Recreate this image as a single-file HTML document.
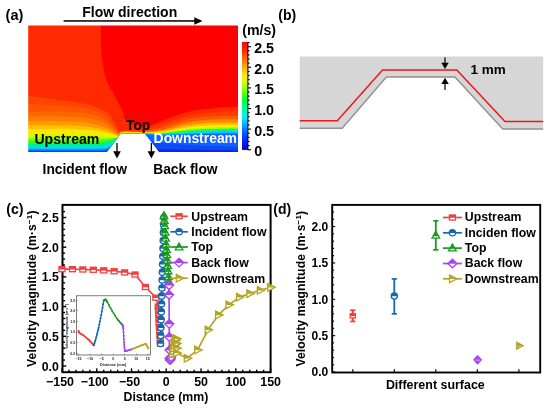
<!DOCTYPE html>
<html lang="en"><head><meta charset="utf-8"><title>Figure</title>
<style>html,body{margin:0;padding:0;background:#fff;}body{width:550px;height:411px;overflow:hidden;}svg{display:block;}</style>
</head><body>
<svg width="550" height="411" viewBox="0 0 550 411" font-family='"Liberation Sans", sans-serif'>
<rect width="550" height="411" fill="#fff"/>
<filter id="soft" x="0" y="0" width="100%" height="100%" filterUnits="userSpaceOnUse"><feGaussianBlur stdDeviation="0.35"/></filter>
<g filter="url(#soft)">
<defs>
<clipPath id="dom"><path d="M28.2,25.4 H238 V152 H159 L145,134 H121 L107,152 H28.2 Z"/></clipPath>
<filter id="bl" x="-5%" y="-5%" width="110%" height="110%"><feGaussianBlur stdDeviation="0.6"/></filter>
<linearGradient id="cbar" x1="0" y1="0" x2="0" y2="1">
<stop offset="0" stop-color="#ff0000"/>
<stop offset="0.075" stop-color="#ff2800"/>
<stop offset="0.17" stop-color="#ff7800"/>
<stop offset="0.245" stop-color="#ffb400"/>
<stop offset="0.32" stop-color="#fff000"/>
<stop offset="0.396" stop-color="#c0ff00"/>
<stop offset="0.47" stop-color="#60ff00"/>
<stop offset="0.547" stop-color="#00ff40"/>
<stop offset="0.623" stop-color="#00ffa0"/>
<stop offset="0.7" stop-color="#00f0ff"/>
<stop offset="0.774" stop-color="#00a0ff"/>
<stop offset="0.85" stop-color="#0058ff"/>
<stop offset="0.925" stop-color="#0020ff"/>
<stop offset="1" stop-color="#0000d0"/>
</linearGradient>
</defs>
<g clip-path="url(#dom)"><g filter="url(#bl)">
<rect x="20" y="15" width="230" height="150" fill="#ff2c00"/>
<path d="M101.0,10.0 C101.0,15.8 100.8,36.3 101.0,45.0 C101.2,53.7 101.6,56.2 102.5,62.0 C103.4,67.8 104.4,74.5 106.3,80.0 C108.2,85.5 111.4,90.0 114.0,95.0 C116.6,100.0 119.8,105.7 122.0,110.0 C124.2,114.3 122.8,118.3 127.0,121.0 C131.2,123.7 137.5,127.3 147.0,126.0 C156.5,124.7 173.2,115.9 184.0,113.0 C194.8,110.1 201.0,109.7 212.0,108.5 C223.0,107.3 243.7,106.4 250.0,106.0 L250,10 Z" fill="#ff0400"/>
<path d="M12.0,96.0 C14.7,96.0 21.7,95.5 28.0,96.0 C34.3,96.5 43.0,97.9 50.0,98.8 C57.0,99.7 64.2,100.7 70.0,101.5 C75.8,102.3 80.8,103.0 85.0,103.8 C89.2,104.6 92.2,105.5 95.0,106.5 C97.8,107.5 99.8,108.4 102.0,109.5 C104.2,110.6 106.3,111.4 108.0,113.0 C109.7,114.6 110.8,117.0 112.0,119.0 C113.2,121.0 114.0,123.2 115.0,125.0 C116.0,126.8 117.2,128.2 118.0,129.5 C118.8,130.8 119.4,132.0 120.0,133.0 C120.6,134.0 121.2,135.1 121.5,135.5 L121.5,175 L10,175 Z" fill="#ff4400"/>
<path d="M12.0,104.0 C14.7,104.0 21.7,103.8 28.0,104.0 C34.3,104.2 43.0,104.7 50.0,105.2 C57.0,105.6 64.2,106.2 70.0,106.8 C75.8,107.3 80.8,107.7 85.0,108.4 C89.2,109.1 92.2,110.1 95.0,111.0 C97.8,111.9 99.8,112.7 102.0,113.8 C104.2,114.8 106.3,116.0 108.0,117.5 C109.7,119.0 110.8,121.1 112.0,122.8 C113.2,124.4 114.0,125.8 115.0,127.2 C116.0,128.7 117.2,130.1 118.0,131.2 C118.8,132.4 119.4,133.2 120.0,134.0 C120.6,134.8 121.2,135.7 121.5,136.0 L121.5,175 L10,175 Z" fill="#ff5400"/>
<path d="M12.0,112.0 C14.7,112.0 21.7,112.1 28.0,112.0 C34.3,111.9 43.0,111.5 50.0,111.5 C57.0,111.5 64.2,111.8 70.0,112.0 C75.8,112.2 80.8,112.4 85.0,113.0 C89.2,113.6 92.2,114.7 95.0,115.5 C97.8,116.3 99.8,116.9 102.0,118.0 C104.2,119.1 106.3,120.6 108.0,122.0 C109.7,123.4 110.8,125.2 112.0,126.5 C113.2,127.8 114.0,128.4 115.0,129.5 C116.0,130.6 117.2,132.1 118.0,133.0 C118.8,133.9 119.4,134.4 120.0,135.0 C120.6,135.6 121.2,136.2 121.5,136.5 L121.5,175 L10,175 Z" fill="#ff6600"/>
<path d="M12.0,116.5 C14.7,116.5 21.7,116.5 28.0,116.5 C34.3,116.5 43.0,116.2 50.0,116.2 C57.0,116.3 64.2,116.5 70.0,116.7 C75.8,116.9 80.8,117.1 85.0,117.6 C89.2,118.2 92.2,119.1 95.0,119.8 C97.8,120.5 99.8,121.2 102.0,122.1 C104.2,123.0 106.3,124.1 108.0,125.2 C109.7,126.3 110.8,127.7 112.0,128.7 C113.2,129.6 114.0,130.2 115.0,131.1 C116.0,131.9 117.2,133.1 118.0,133.9 C118.8,134.6 119.4,135.1 120.0,135.6 C120.6,136.1 121.2,136.7 121.5,136.9 L121.5,175 L10,175 Z" fill="#ff7e00"/>
<path d="M12.0,121.2 C14.7,121.2 21.7,121.2 28.0,121.2 C34.3,121.2 43.0,121.1 50.0,121.2 C57.0,121.3 64.2,121.4 70.0,121.6 C75.8,121.8 80.8,122.0 85.0,122.5 C89.2,122.9 92.2,123.7 95.0,124.3 C97.8,124.9 99.8,125.6 102.0,126.3 C104.2,127.0 106.3,127.8 108.0,128.6 C109.7,129.3 110.8,130.2 112.0,130.9 C113.2,131.6 114.0,132.1 115.0,132.7 C116.0,133.4 117.2,134.2 118.0,134.8 C118.8,135.4 119.4,135.9 120.0,136.3 C120.6,136.7 121.2,137.1 121.5,137.3 L121.5,175 L10,175 Z" fill="#ff9a00"/>
<path d="M12.0,125.3 C14.7,125.3 21.7,125.3 28.0,125.3 C34.3,125.3 43.0,125.3 50.0,125.3 C57.0,125.3 64.2,125.3 70.0,125.5 C75.8,125.7 80.8,126.0 85.0,126.4 C89.2,126.7 92.2,127.2 95.0,127.7 C97.8,128.1 99.8,128.5 102.0,129.1 C104.2,129.6 106.3,130.3 108.0,130.9 C109.7,131.5 110.8,132.1 112.0,132.6 C113.2,133.1 114.0,133.5 115.0,134.0 C116.0,134.5 117.2,135.1 118.0,135.5 C118.8,136.0 119.4,136.4 120.0,136.7 C120.6,137.0 121.2,137.3 121.5,137.5 L121.5,175 L10,175 Z" fill="#ffc000"/>
<path d="M12.0,128.9 C14.7,128.9 21.7,128.9 28.0,128.9 C34.3,128.9 43.0,128.9 50.0,128.9 C57.0,128.9 64.2,128.8 70.0,128.9 C75.8,129.0 80.8,129.5 85.0,129.8 C89.2,130.0 92.2,130.3 95.0,130.6 C97.8,130.8 99.8,131.1 102.0,131.4 C104.2,131.8 106.3,132.5 108.0,132.9 C109.7,133.3 110.8,133.7 112.0,134.1 C113.2,134.4 114.0,134.7 115.0,135.1 C116.0,135.4 117.2,135.9 118.0,136.2 C118.8,136.6 119.4,136.8 120.0,137.0 C120.6,137.3 121.2,137.5 121.5,137.6 L121.5,175 L10,175 Z" fill="#ffe800"/>
<path d="M12.0,134.5 C14.7,134.5 21.7,134.5 28.0,134.5 C34.3,134.5 43.0,134.5 50.0,134.5 C57.0,134.5 64.2,134.5 70.0,134.5 C75.8,134.5 80.8,134.4 85.0,134.5 C89.2,134.6 92.2,134.9 95.0,135.0 C97.8,135.2 99.8,135.3 102.0,135.4 C104.2,135.6 106.3,135.8 108.0,135.9 C109.7,136.1 110.8,136.3 112.0,136.5 C113.2,136.6 114.0,136.6 115.0,136.8 C116.0,136.9 117.2,137.0 118.0,137.2 C118.8,137.3 119.4,137.5 120.0,137.6 C120.6,137.7 121.2,137.9 121.5,138.0 L121.5,175 L10,175 Z" fill="#c8ff00"/>
<path d="M12.0,138.2 C14.7,138.2 21.7,138.2 28.0,138.2 C34.3,138.2 43.0,138.2 50.0,138.2 C57.0,138.2 64.2,138.2 70.0,138.2 C75.8,138.2 80.8,138.2 85.0,138.2 C89.2,138.2 92.2,138.4 95.0,138.4 C97.8,138.4 99.8,138.4 102.0,138.3 C104.2,138.2 106.3,138.1 108.0,138.1 C109.7,138.0 110.8,137.9 112.0,137.9 C113.2,137.8 114.0,137.7 115.0,137.6 C116.0,137.6 117.2,137.4 118.0,137.4 C118.8,137.3 119.4,137.3 120.0,137.3 C120.6,137.3 121.2,137.3 121.5,137.3 L121.5,175 L10,175 Z" fill="#84fc00"/>
<path d="M12.0,140.6 C14.7,140.6 21.7,140.6 28.0,140.6 C34.3,140.6 43.0,140.6 50.0,140.6 C57.0,140.6 64.2,140.6 70.0,140.6 C75.8,140.6 80.8,140.6 85.0,140.6 C89.2,140.6 92.2,140.7 95.0,140.6 C97.8,140.6 99.8,140.4 102.0,140.2 C104.2,140.0 106.3,139.7 108.0,139.4 C109.7,139.2 110.8,139.0 112.0,138.8 C113.2,138.6 114.0,138.4 115.0,138.2 C116.0,138.0 117.2,137.7 118.0,137.5 C118.8,137.3 119.4,137.2 120.0,137.1 C120.6,137.0 121.2,136.9 121.5,136.8 L121.5,175 L10,175 Z" fill="#38f828"/>
<path d="M12.0,143.4 C14.7,143.4 21.7,143.4 28.0,143.4 C34.3,143.4 43.0,143.4 50.0,143.4 C57.0,143.4 64.2,143.4 70.0,143.4 C75.8,143.4 80.8,143.4 85.0,143.4 C89.2,143.4 92.2,143.4 95.0,143.3 C97.8,143.2 99.8,143.0 102.0,142.7 C104.2,142.5 106.3,142.0 108.0,141.6 C109.7,141.2 110.8,140.8 112.0,140.4 C113.2,140.0 114.0,139.6 115.0,139.2 C116.0,138.7 117.2,138.1 118.0,137.7 C118.8,137.3 119.4,137.0 120.0,136.8 C120.6,136.5 121.2,136.3 121.5,136.2 L121.5,175 L10,175 Z" fill="#00f088"/>
<path d="M12.0,146.2 C14.7,146.2 21.7,146.2 28.0,146.2 C34.3,146.2 43.0,146.2 50.0,146.2 C57.0,146.2 64.2,146.2 70.0,146.2 C75.8,146.2 80.8,146.2 85.0,146.2 C89.2,146.2 92.2,146.2 95.0,146.2 C97.8,146.1 99.8,146.2 102.0,145.9 C104.2,145.7 106.3,145.2 108.0,144.7 C109.7,144.3 110.8,143.7 112.0,143.0 C113.2,142.3 114.0,141.5 115.0,140.7 C116.0,139.8 117.2,138.6 118.0,137.9 C118.8,137.2 119.4,136.7 120.0,136.2 C120.6,135.8 121.2,135.5 121.5,135.4 L121.5,175 L10,175 Z" fill="#00dcf0"/>
<path d="M12.0,148.8 C14.7,148.8 21.7,148.8 28.0,148.8 C34.3,148.8 43.0,148.8 50.0,148.8 C57.0,148.8 64.2,148.8 70.0,148.8 C75.8,148.8 80.8,148.8 85.0,148.8 C89.2,148.8 92.2,148.8 95.0,148.8 C97.8,148.8 99.8,148.9 102.0,148.7 C104.2,148.5 106.3,148.2 108.0,147.6 C109.7,146.9 110.8,145.7 112.0,144.7 C113.2,143.7 114.0,142.6 115.0,141.5 C116.0,140.4 117.2,139.0 118.0,138.0 C118.8,137.0 119.4,136.3 120.0,135.8 C120.6,135.3 121.2,135.0 121.5,134.8 L121.5,175 L10,175 Z" fill="#0094ff"/>
<path d="M12.0,150.6 C14.7,150.6 21.7,150.6 28.0,150.6 C34.3,150.6 43.0,150.6 50.0,150.6 C57.0,150.6 64.2,150.6 70.0,150.6 C75.8,150.6 80.8,150.6 85.0,150.6 C89.2,150.6 92.2,150.6 95.0,150.6 C97.8,150.6 99.8,150.8 102.0,150.6 C104.2,150.4 106.3,150.3 108.0,149.5 C109.7,148.6 110.8,146.8 112.0,145.5 C113.2,144.2 114.0,142.9 115.0,141.7 C116.0,140.4 117.2,139.0 118.0,138.0 C118.8,137.0 119.4,136.1 120.0,135.5 C120.6,134.9 121.2,134.7 121.5,134.5 L121.5,175 L10,175 Z" fill="#0044ff"/>
<path d="M119.0,133.8 C119.5,133.3 119.5,131.3 122.0,130.8 C124.5,130.3 130.2,130.8 134.0,130.8 C137.8,130.8 140.2,131.9 145.0,130.8 C149.8,129.7 155.4,126.5 163.0,124.0 C170.6,121.5 181.4,117.8 190.5,115.8 C199.6,113.8 207.8,113.1 217.7,112.3 C227.6,111.5 244.6,111.4 250.0,111.2 L260,175 L119,175 Z" fill="#ff3e00"/>
<path d="M119.0,134.2 C119.5,133.7 119.5,131.7 122.0,131.2 C124.5,130.7 130.2,131.2 134.0,131.2 C137.8,131.2 140.2,131.9 145.0,131.2 C149.8,130.5 155.4,129.1 163.0,127.0 C170.6,124.9 181.4,120.3 190.5,118.5 C199.6,116.7 207.8,116.8 217.7,116.3 C227.6,115.8 244.6,115.9 250.0,115.8 L260,175 L119,175 Z" fill="#ff5a00"/>
<path d="M119.0,134.7 C119.5,134.2 119.5,132.2 122.0,131.7 C124.5,131.2 130.2,131.7 134.0,131.7 C137.8,131.7 140.2,132.1 145.0,131.7 C149.8,131.3 155.4,131.2 163.0,129.5 C170.6,127.8 181.4,123.5 190.5,121.8 C199.6,120.1 207.8,119.9 217.7,119.5 C227.6,119.1 244.6,119.6 250.0,119.6 L260,175 L119,175 Z" fill="#ff8c00"/>
<path d="M119.0,135.1 C119.5,134.6 119.5,132.6 122.0,132.1 C124.5,131.6 130.2,132.1 134.0,132.1 C137.8,132.1 140.2,132.3 145.0,132.1 C149.8,131.9 155.4,132.0 163.0,130.8 C170.6,129.6 181.4,126.1 190.5,124.8 C199.6,123.5 207.8,123.1 217.7,122.8 C227.6,122.5 244.6,122.8 250.0,122.8 L260,175 L119,175 Z" fill="#ffc000"/>
<path d="M119.0,135.5 C119.5,135.0 119.5,133.0 122.0,132.5 C124.5,132.0 130.2,132.5 134.0,132.5 C137.8,132.5 140.2,132.6 145.0,132.5 C149.8,132.4 155.4,132.7 163.0,131.8 C170.6,130.9 181.4,128.1 190.5,127.0 C199.6,125.9 207.8,125.5 217.7,125.2 C227.6,124.9 244.6,125.2 250.0,125.2 L260,175 L119,175 Z" fill="#fff000"/>
<path d="M119.0,135.9 C119.5,135.4 119.5,133.4 122.0,132.9 C124.5,132.4 130.2,132.9 134.0,132.9 C137.8,132.9 140.2,133.0 145.0,132.9 C149.8,132.8 155.4,133.2 163.0,132.5 C170.6,131.8 181.4,129.5 190.5,128.6 C199.6,127.7 207.8,127.4 217.7,127.2 C227.6,127.0 244.6,127.2 250.0,127.2 L260,175 L119,175 Z" fill="#b0ff00"/>
<path d="M119.0,136.2 C119.5,135.7 119.5,133.7 122.0,133.2 C124.5,132.7 130.2,133.2 134.0,133.2 C137.8,133.2 140.2,133.2 145.0,133.2 C149.8,133.2 155.4,133.5 163.0,133.0 C170.6,132.5 181.4,130.7 190.5,130.0 C199.6,129.3 207.8,129.0 217.7,128.7 C227.6,128.4 244.6,128.4 250.0,128.4 L260,175 L119,175 Z" fill="#30f830"/>
<path d="M119.0,136.5 C119.5,136.0 119.5,134.0 122.0,133.5 C124.5,133.0 130.2,133.5 134.0,133.5 C137.8,133.5 140.2,133.5 145.0,133.5 C149.8,133.5 155.4,133.9 163.0,133.5 C170.6,133.1 181.4,131.8 190.5,131.2 C199.6,130.6 207.8,130.2 217.7,130.0 C227.6,129.8 244.6,129.8 250.0,129.8 L260,175 L119,175 Z" fill="#00f0a0"/>
<path d="M119.0,136.8 C119.5,136.3 119.5,134.3 122.0,133.8 C124.5,133.3 130.2,133.8 134.0,133.8 C137.8,133.8 140.2,133.8 145.0,133.8 C149.8,133.8 155.4,134.2 163.0,134.0 C170.6,133.8 181.4,132.8 190.5,132.4 C199.6,132.0 207.8,131.5 217.7,131.3 C227.6,131.1 244.6,131.2 250.0,131.2 L260,175 L119,175 Z" fill="#00d8f8"/>
<path d="M119.0,137.1 C119.5,136.6 119.5,134.6 122.0,134.1 C124.5,133.6 130.2,134.1 134.0,134.1 C137.8,134.1 140.2,134.0 145.0,134.1 C149.8,134.2 155.4,134.6 163.0,134.5 C170.6,134.4 181.4,133.8 190.5,133.5 C199.6,133.2 207.8,132.8 217.7,132.6 C227.6,132.4 244.6,132.5 250.0,132.5 L260,175 L119,175 Z" fill="#0098ff"/>
<path d="M119.0,137.4 C119.5,136.9 119.5,134.9 122.0,134.4 C124.5,133.9 130.2,134.4 134.0,134.4 C137.8,134.4 140.2,134.3 145.0,134.4 C149.8,134.5 155.4,135.2 163.0,135.2 C170.6,135.2 181.4,134.8 190.5,134.6 C199.6,134.4 207.8,133.9 217.7,133.8 C227.6,133.7 244.6,133.8 250.0,133.8 L260,175 L119,175 Z" fill="#0a64ff"/>
<path d="M150,141 C170,144 200,146.5 250,147 L250,170 L150,170 Z" fill="#0848f8"/>
<path d="M156,149.3 C180,149.8 210,150.2 250,150.2 L250,170 L156,170 Z" fill="#0828e0"/>
</g></g>
<rect x="242.0" y="42" width="6.0" height="107.9" fill="url(#cbar)"/>
<rect x="247.4" y="42" width="1.0" height="108.2" fill="#000"/>
<rect x="247.8" y="149.15" width="3.2" height="1.1" fill="#000"/>
<rect x="247.8" y="145.03" width="1.8" height="1.1" fill="#000"/>
<rect x="247.8" y="140.91" width="1.8" height="1.1" fill="#000"/>
<rect x="247.8" y="136.79" width="1.8" height="1.1" fill="#000"/>
<rect x="247.8" y="132.67" width="1.8" height="1.1" fill="#000"/>
<rect x="247.8" y="128.55" width="3.2" height="1.1" fill="#000"/>
<rect x="247.8" y="124.43" width="1.8" height="1.1" fill="#000"/>
<rect x="247.8" y="120.31" width="1.8" height="1.1" fill="#000"/>
<rect x="247.8" y="116.19" width="1.8" height="1.1" fill="#000"/>
<rect x="247.8" y="112.07" width="1.8" height="1.1" fill="#000"/>
<rect x="247.8" y="107.95" width="3.2" height="1.1" fill="#000"/>
<rect x="247.8" y="103.83" width="1.8" height="1.1" fill="#000"/>
<rect x="247.8" y="99.71" width="1.8" height="1.1" fill="#000"/>
<rect x="247.8" y="95.59" width="1.8" height="1.1" fill="#000"/>
<rect x="247.8" y="91.47" width="1.8" height="1.1" fill="#000"/>
<rect x="247.8" y="87.35" width="3.2" height="1.1" fill="#000"/>
<rect x="247.8" y="83.23" width="1.8" height="1.1" fill="#000"/>
<rect x="247.8" y="79.11" width="1.8" height="1.1" fill="#000"/>
<rect x="247.8" y="74.99" width="1.8" height="1.1" fill="#000"/>
<rect x="247.8" y="70.87" width="1.8" height="1.1" fill="#000"/>
<rect x="247.8" y="66.75" width="3.2" height="1.1" fill="#000"/>
<rect x="247.8" y="62.63" width="1.8" height="1.1" fill="#000"/>
<rect x="247.8" y="58.51" width="1.8" height="1.1" fill="#000"/>
<rect x="247.8" y="54.39" width="1.8" height="1.1" fill="#000"/>
<rect x="247.8" y="50.27" width="1.8" height="1.1" fill="#000"/>
<rect x="247.8" y="46.15" width="3.2" height="1.1" fill="#000"/>
<rect x="247.8" y="42.03" width="1.8" height="1.1" fill="#000"/>
<text x="254.20" y="52.80" font-size="14.3" font-weight="bold" text-anchor="start" fill="#000" >2.5</text>
<text x="254.20" y="73.50" font-size="14.3" font-weight="bold" text-anchor="start" fill="#000" >2.0</text>
<text x="254.20" y="94.20" font-size="14.3" font-weight="bold" text-anchor="start" fill="#000" >1.5</text>
<text x="254.20" y="114.90" font-size="14.3" font-weight="bold" text-anchor="start" fill="#000" >1.0</text>
<text x="254.20" y="135.60" font-size="14.3" font-weight="bold" text-anchor="start" fill="#000" >0.5</text>
<text x="254.20" y="156.30" font-size="14.3" font-weight="bold" text-anchor="start" fill="#000" >0</text>
<text x="242.20" y="34.90" font-size="14.2" font-weight="bold" text-anchor="start" fill="#000" >(m/s)</text>
<text x="5.60" y="20.30" font-size="14.5" font-weight="bold" text-anchor="start" fill="#000" >(a)</text>
<text x="82.30" y="17.30" font-size="14" font-weight="bold" text-anchor="start" fill="#000" >Flow direction</text>
<rect x="63.6" y="20.2" width="132" height="1.5" fill="#000"/>
<path d="M194.3,17.2 L202.5,20.95 L194.3,24.7 Z" fill="#000"/>
<text x="34.40" y="143.80" font-size="14.1" font-weight="bold" text-anchor="start" fill="#000" >Upstream</text>
<text x="126.00" y="130.10" font-size="13.8" font-weight="bold" text-anchor="start" fill="#000" >Top</text>
<text x="153.60" y="143.30" font-size="13.9" font-weight="bold" text-anchor="start" fill="#fff" >Downstream</text>
<text x="42.60" y="173.80" font-size="13.8" font-weight="bold" text-anchor="start" fill="#000" >Incident flow</text>
<text x="153.20" y="173.70" font-size="13.8" font-weight="bold" text-anchor="start" fill="#000" >Back flow</text>
<rect x="116.35" y="143" width="1.3" height="9" fill="#000"/>
<path d="M113.2,151.3 L120.8,151.3 L117.0,158.6 Z" fill="#000"/>
<rect x="150.75" y="143" width="1.3" height="9" fill="#000"/>
<path d="M147.6,151.3 L155.20000000000002,151.3 L151.4,158.6 Z" fill="#000"/>
<text x="278.30" y="19.60" font-size="14" font-weight="bold" text-anchor="start" fill="#000" >(b)</text>
<path d="M299.7,56.5 H543.2 V129.3 H502.5 L454.7,77.3 H386.6 L342.4,128.5 H299.7 Z" fill="#d6d6d6"/>
<path d="M299.7,128.2 H342.2 L386.4,77.0 H454.9 L502.7,129.0 H543.2" fill="none" stroke="#929292" stroke-width="1.4"/>
<path d="M299.7,120.8 H337.3 L382.5,69.9 H456.8 L505,121.6 H543.2" fill="none" stroke="#f01818" stroke-width="1.5"/>
<rect x="444.4" y="57.4" width="1.2" height="7" fill="#000"/>
<path d="M441.3,62.8 L448.7,62.8 L445,69.1 Z" fill="#000"/>
<rect x="444.4" y="83" width="1.2" height="7" fill="#000"/>
<path d="M441.3,84.0 L448.7,84.0 L445,77.7 Z" fill="#000"/>
<text x="470.40" y="74.10" font-size="12" font-weight="bold" text-anchor="start" fill="#000" textLength="35.3" lengthAdjust="spacingAndGlyphs">1 mm</text>
<text x="6.20" y="213.60" font-size="14.2" font-weight="bold" text-anchor="start" fill="#000" >(c)</text>
<rect x="62.5" y="204.9" width="208.10000000000002" height="167.29999999999998" fill="none" stroke="#000" stroke-width="2.0"/>
<rect x="61.31" y="368.40" width="1.4" height="3.8" fill="#000"/>
<rect x="68.26" y="369.70" width="1.4" height="2.5" fill="#000"/>
<rect x="75.21" y="369.70" width="1.4" height="2.5" fill="#000"/>
<rect x="82.16" y="369.70" width="1.4" height="2.5" fill="#000"/>
<rect x="89.12" y="369.70" width="1.4" height="2.5" fill="#000"/>
<rect x="96.07" y="368.40" width="1.4" height="3.8" fill="#000"/>
<rect x="103.02" y="369.70" width="1.4" height="2.5" fill="#000"/>
<rect x="109.98" y="369.70" width="1.4" height="2.5" fill="#000"/>
<rect x="116.93" y="369.70" width="1.4" height="2.5" fill="#000"/>
<rect x="123.88" y="369.70" width="1.4" height="2.5" fill="#000"/>
<rect x="130.84" y="368.40" width="1.4" height="3.8" fill="#000"/>
<rect x="137.79" y="369.70" width="1.4" height="2.5" fill="#000"/>
<rect x="144.74" y="369.70" width="1.4" height="2.5" fill="#000"/>
<rect x="151.69" y="369.70" width="1.4" height="2.5" fill="#000"/>
<rect x="158.65" y="369.70" width="1.4" height="2.5" fill="#000"/>
<rect x="165.60" y="368.40" width="1.4" height="3.8" fill="#000"/>
<rect x="172.55" y="369.70" width="1.4" height="2.5" fill="#000"/>
<rect x="179.51" y="369.70" width="1.4" height="2.5" fill="#000"/>
<rect x="186.46" y="369.70" width="1.4" height="2.5" fill="#000"/>
<rect x="193.41" y="369.70" width="1.4" height="2.5" fill="#000"/>
<rect x="200.37" y="368.40" width="1.4" height="3.8" fill="#000"/>
<rect x="207.32" y="369.70" width="1.4" height="2.5" fill="#000"/>
<rect x="214.27" y="369.70" width="1.4" height="2.5" fill="#000"/>
<rect x="221.22" y="369.70" width="1.4" height="2.5" fill="#000"/>
<rect x="228.18" y="369.70" width="1.4" height="2.5" fill="#000"/>
<rect x="235.13" y="368.40" width="1.4" height="3.8" fill="#000"/>
<rect x="242.08" y="369.70" width="1.4" height="2.5" fill="#000"/>
<rect x="249.04" y="369.70" width="1.4" height="2.5" fill="#000"/>
<rect x="255.99" y="369.70" width="1.4" height="2.5" fill="#000"/>
<rect x="262.94" y="369.70" width="1.4" height="2.5" fill="#000"/>
<rect x="269.90" y="368.40" width="1.4" height="3.8" fill="#000"/>
<rect x="62.5" y="365.30" width="3.8" height="1.4" fill="#000"/>
<rect x="62.5" y="359.36" width="2.5" height="1.4" fill="#000"/>
<rect x="62.5" y="353.42" width="2.5" height="1.4" fill="#000"/>
<rect x="62.5" y="347.48" width="2.5" height="1.4" fill="#000"/>
<rect x="62.5" y="341.54" width="2.5" height="1.4" fill="#000"/>
<rect x="62.5" y="335.60" width="3.8" height="1.4" fill="#000"/>
<rect x="62.5" y="329.66" width="2.5" height="1.4" fill="#000"/>
<rect x="62.5" y="323.72" width="2.5" height="1.4" fill="#000"/>
<rect x="62.5" y="317.78" width="2.5" height="1.4" fill="#000"/>
<rect x="62.5" y="311.84" width="2.5" height="1.4" fill="#000"/>
<rect x="62.5" y="305.90" width="3.8" height="1.4" fill="#000"/>
<rect x="62.5" y="299.96" width="2.5" height="1.4" fill="#000"/>
<rect x="62.5" y="294.02" width="2.5" height="1.4" fill="#000"/>
<rect x="62.5" y="288.08" width="2.5" height="1.4" fill="#000"/>
<rect x="62.5" y="282.14" width="2.5" height="1.4" fill="#000"/>
<rect x="62.5" y="276.20" width="3.8" height="1.4" fill="#000"/>
<rect x="62.5" y="270.26" width="2.5" height="1.4" fill="#000"/>
<rect x="62.5" y="264.32" width="2.5" height="1.4" fill="#000"/>
<rect x="62.5" y="258.38" width="2.5" height="1.4" fill="#000"/>
<rect x="62.5" y="252.44" width="2.5" height="1.4" fill="#000"/>
<rect x="62.5" y="246.50" width="3.8" height="1.4" fill="#000"/>
<rect x="62.5" y="240.56" width="2.5" height="1.4" fill="#000"/>
<rect x="62.5" y="234.62" width="2.5" height="1.4" fill="#000"/>
<rect x="62.5" y="228.68" width="2.5" height="1.4" fill="#000"/>
<rect x="62.5" y="222.74" width="2.5" height="1.4" fill="#000"/>
<rect x="62.5" y="216.80" width="3.8" height="1.4" fill="#000"/>
<rect x="62.5" y="210.86" width="2.5" height="1.4" fill="#000"/>
<text x="60.01" y="385.90" font-size="12.4" font-weight="bold" text-anchor="middle" fill="#000" >−150</text>
<text x="94.77" y="385.90" font-size="12.4" font-weight="bold" text-anchor="middle" fill="#000" >−100</text>
<text x="129.54" y="385.90" font-size="12.4" font-weight="bold" text-anchor="middle" fill="#000" >−50</text>
<text x="166.30" y="385.90" font-size="12.4" font-weight="bold" text-anchor="middle" fill="#000" >0</text>
<text x="201.06" y="385.90" font-size="12.4" font-weight="bold" text-anchor="middle" fill="#000" >50</text>
<text x="235.83" y="385.90" font-size="12.4" font-weight="bold" text-anchor="middle" fill="#000" >100</text>
<text x="270.60" y="385.90" font-size="12.4" font-weight="bold" text-anchor="middle" fill="#000" >150</text>
<text x="58.80" y="370.80" font-size="12.3" font-weight="bold" text-anchor="end" fill="#000" >0.0</text>
<text x="58.80" y="340.70" font-size="12.3" font-weight="bold" text-anchor="end" fill="#000" >0.5</text>
<text x="58.80" y="311.00" font-size="12.3" font-weight="bold" text-anchor="end" fill="#000" >1.0</text>
<text x="58.80" y="281.30" font-size="12.3" font-weight="bold" text-anchor="end" fill="#000" >1.5</text>
<text x="58.80" y="251.60" font-size="12.3" font-weight="bold" text-anchor="end" fill="#000" >2.0</text>
<text x="58.80" y="221.90" font-size="12.3" font-weight="bold" text-anchor="end" fill="#000" >2.5</text>
<text x="123.50" y="401.20" font-size="12.3" font-weight="bold" text-anchor="start" fill="#000" >Distance (mm)</text>
<text transform="translate(36.1,367) rotate(-90)" font-size="12.1" font-weight="bold" textLength="156.5" lengthAdjust="spacing">Velocity magnitude (m·s<tspan font-size="8" dy="-4.5">−1</tspan><tspan dy="4.5">)</tspan></text>
<polyline fill="none" stroke="#f04040" stroke-width="1.7" stroke-linejoin="round" points="62.01,269.18 72.43,269.18 82.86,269.48 93.29,269.77 103.72,270.37 114.15,271.26 124.58,272.44 135.01,274.52 145.44,287.00 155.87,297.69 158.23,306.60 158.51,310.16 158.72,314.32 158.93,318.48 159.14,322.64 159.35,326.80 159.63,330.95 159.90,335.11 160.18,339.27 160.46,343.43"/>
<rect x="59.01" y="266.66" width="6.00" height="5.04" fill="#fff" stroke="#f04040" stroke-width="1.3"/><rect x="59.01" y="266.66" width="6.00" height="2.82" fill="#f04040"/>
<rect x="69.43" y="266.66" width="6.00" height="5.04" fill="#fff" stroke="#f04040" stroke-width="1.3"/><rect x="69.43" y="266.66" width="6.00" height="2.82" fill="#f04040"/>
<rect x="79.86" y="266.96" width="6.00" height="5.04" fill="#fff" stroke="#f04040" stroke-width="1.3"/><rect x="79.86" y="266.96" width="6.00" height="2.82" fill="#f04040"/>
<rect x="90.29" y="267.25" width="6.00" height="5.04" fill="#fff" stroke="#f04040" stroke-width="1.3"/><rect x="90.29" y="267.25" width="6.00" height="2.82" fill="#f04040"/>
<rect x="100.72" y="267.85" width="6.00" height="5.04" fill="#fff" stroke="#f04040" stroke-width="1.3"/><rect x="100.72" y="267.85" width="6.00" height="2.82" fill="#f04040"/>
<rect x="111.15" y="268.74" width="6.00" height="5.04" fill="#fff" stroke="#f04040" stroke-width="1.3"/><rect x="111.15" y="268.74" width="6.00" height="2.82" fill="#f04040"/>
<rect x="121.58" y="269.93" width="6.00" height="5.04" fill="#fff" stroke="#f04040" stroke-width="1.3"/><rect x="121.58" y="269.93" width="6.00" height="2.82" fill="#f04040"/>
<rect x="132.01" y="272.00" width="6.00" height="5.04" fill="#fff" stroke="#f04040" stroke-width="1.3"/><rect x="132.01" y="272.00" width="6.00" height="2.82" fill="#f04040"/>
<rect x="142.44" y="284.48" width="6.00" height="5.04" fill="#fff" stroke="#f04040" stroke-width="1.3"/><rect x="142.44" y="284.48" width="6.00" height="2.82" fill="#f04040"/>
<rect x="152.87" y="295.17" width="6.00" height="5.04" fill="#fff" stroke="#f04040" stroke-width="1.3"/><rect x="152.87" y="295.17" width="6.00" height="2.82" fill="#f04040"/>
<rect x="155.23" y="304.08" width="6.00" height="5.04" fill="#fff" stroke="#f04040" stroke-width="1.3"/><rect x="155.23" y="304.08" width="6.00" height="2.82" fill="#f04040"/>
<rect x="155.51" y="307.64" width="6.00" height="5.04" fill="#fff" stroke="#f04040" stroke-width="1.3"/><rect x="155.51" y="307.64" width="6.00" height="2.82" fill="#f04040"/>
<rect x="155.72" y="311.80" width="6.00" height="5.04" fill="#fff" stroke="#f04040" stroke-width="1.3"/><rect x="155.72" y="311.80" width="6.00" height="2.82" fill="#f04040"/>
<rect x="155.93" y="315.96" width="6.00" height="5.04" fill="#fff" stroke="#f04040" stroke-width="1.3"/><rect x="155.93" y="315.96" width="6.00" height="2.82" fill="#f04040"/>
<rect x="156.14" y="320.12" width="6.00" height="5.04" fill="#fff" stroke="#f04040" stroke-width="1.3"/><rect x="156.14" y="320.12" width="6.00" height="2.82" fill="#f04040"/>
<rect x="156.35" y="324.28" width="6.00" height="5.04" fill="#fff" stroke="#f04040" stroke-width="1.3"/><rect x="156.35" y="324.28" width="6.00" height="2.82" fill="#f04040"/>
<rect x="156.63" y="328.43" width="6.00" height="5.04" fill="#fff" stroke="#f04040" stroke-width="1.3"/><rect x="156.63" y="328.43" width="6.00" height="2.82" fill="#f04040"/>
<rect x="156.90" y="332.59" width="6.00" height="5.04" fill="#fff" stroke="#f04040" stroke-width="1.3"/><rect x="156.90" y="332.59" width="6.00" height="2.82" fill="#f04040"/>
<rect x="157.18" y="336.75" width="6.00" height="5.04" fill="#fff" stroke="#f04040" stroke-width="1.3"/><rect x="157.18" y="336.75" width="6.00" height="2.82" fill="#f04040"/>
<rect x="157.46" y="340.91" width="6.00" height="5.04" fill="#fff" stroke="#f04040" stroke-width="1.3"/><rect x="157.46" y="340.91" width="6.00" height="2.82" fill="#f04040"/>
<polyline fill="none" stroke="#1868ae" stroke-width="1.7" stroke-linejoin="round" points="160.46,343.43 160.67,335.51 160.89,327.59 161.10,319.67 161.31,311.75 161.53,303.83 161.74,295.91 161.95,287.99 162.17,280.07 162.38,272.15 162.59,264.23 162.80,256.31 163.02,248.39 163.23,240.47 163.44,232.55 163.66,224.63 163.87,217.50"/>
<circle cx="160.46" cy="343.43" r="3.15" fill="#fff" stroke="#1868ae" stroke-width="1.3"/><path d="M157.31,343.73 L157.31,343.43 A3.15,3.15 0 0 1 163.61,343.43 L163.61,343.73 Z" fill="#1868ae"/>
<circle cx="160.67" cy="335.51" r="3.15" fill="#fff" stroke="#1868ae" stroke-width="1.3"/><path d="M157.52,335.81 L157.52,335.51 A3.15,3.15 0 0 1 163.82,335.51 L163.82,335.81 Z" fill="#1868ae"/>
<circle cx="160.89" cy="327.59" r="3.15" fill="#fff" stroke="#1868ae" stroke-width="1.3"/><path d="M157.74,327.89 L157.74,327.59 A3.15,3.15 0 0 1 164.04,327.59 L164.04,327.89 Z" fill="#1868ae"/>
<circle cx="161.10" cy="319.67" r="3.15" fill="#fff" stroke="#1868ae" stroke-width="1.3"/><path d="M157.95,319.97 L157.95,319.67 A3.15,3.15 0 0 1 164.25,319.67 L164.25,319.97 Z" fill="#1868ae"/>
<circle cx="161.31" cy="311.75" r="3.15" fill="#fff" stroke="#1868ae" stroke-width="1.3"/><path d="M158.16,312.05 L158.16,311.75 A3.15,3.15 0 0 1 164.46,311.75 L164.46,312.05 Z" fill="#1868ae"/>
<circle cx="161.53" cy="303.83" r="3.15" fill="#fff" stroke="#1868ae" stroke-width="1.3"/><path d="M158.38,304.13 L158.38,303.83 A3.15,3.15 0 0 1 164.68,303.83 L164.68,304.13 Z" fill="#1868ae"/>
<circle cx="161.74" cy="295.91" r="3.15" fill="#fff" stroke="#1868ae" stroke-width="1.3"/><path d="M158.59,296.21 L158.59,295.91 A3.15,3.15 0 0 1 164.89,295.91 L164.89,296.21 Z" fill="#1868ae"/>
<circle cx="161.95" cy="287.99" r="3.15" fill="#fff" stroke="#1868ae" stroke-width="1.3"/><path d="M158.80,288.29 L158.80,287.99 A3.15,3.15 0 0 1 165.10,287.99 L165.10,288.29 Z" fill="#1868ae"/>
<circle cx="162.17" cy="280.07" r="3.15" fill="#fff" stroke="#1868ae" stroke-width="1.3"/><path d="M159.02,280.37 L159.02,280.07 A3.15,3.15 0 0 1 165.32,280.07 L165.32,280.37 Z" fill="#1868ae"/>
<circle cx="162.38" cy="272.15" r="3.15" fill="#fff" stroke="#1868ae" stroke-width="1.3"/><path d="M159.23,272.45 L159.23,272.15 A3.15,3.15 0 0 1 165.53,272.15 L165.53,272.45 Z" fill="#1868ae"/>
<circle cx="162.59" cy="264.23" r="3.15" fill="#fff" stroke="#1868ae" stroke-width="1.3"/><path d="M159.44,264.53 L159.44,264.23 A3.15,3.15 0 0 1 165.74,264.23 L165.74,264.53 Z" fill="#1868ae"/>
<circle cx="162.80" cy="256.31" r="3.15" fill="#fff" stroke="#1868ae" stroke-width="1.3"/><path d="M159.65,256.61 L159.65,256.31 A3.15,3.15 0 0 1 165.95,256.31 L165.95,256.61 Z" fill="#1868ae"/>
<circle cx="163.02" cy="248.39" r="3.15" fill="#fff" stroke="#1868ae" stroke-width="1.3"/><path d="M159.87,248.69 L159.87,248.39 A3.15,3.15 0 0 1 166.17,248.39 L166.17,248.69 Z" fill="#1868ae"/>
<circle cx="163.23" cy="240.47" r="3.15" fill="#fff" stroke="#1868ae" stroke-width="1.3"/><path d="M160.08,240.77 L160.08,240.47 A3.15,3.15 0 0 1 166.38,240.47 L166.38,240.77 Z" fill="#1868ae"/>
<circle cx="163.44" cy="232.55" r="3.15" fill="#fff" stroke="#1868ae" stroke-width="1.3"/><path d="M160.29,232.85 L160.29,232.55 A3.15,3.15 0 0 1 166.59,232.55 L166.59,232.85 Z" fill="#1868ae"/>
<circle cx="163.66" cy="224.63" r="3.15" fill="#fff" stroke="#1868ae" stroke-width="1.3"/><path d="M160.51,224.93 L160.51,224.63 A3.15,3.15 0 0 1 166.81,224.63 L166.81,224.93 Z" fill="#1868ae"/>
<circle cx="163.87" cy="217.50" r="3.15" fill="#fff" stroke="#1868ae" stroke-width="1.3"/><path d="M160.72,217.80 L160.72,217.50 A3.15,3.15 0 0 1 167.02,217.50 L167.02,217.80 Z" fill="#1868ae"/>
<polyline fill="none" stroke="#1a9a20" stroke-width="1.7" stroke-linejoin="round" points="163.94,215.72 164.35,220.47 164.77,225.82 165.19,232.35 165.60,238.29 166.02,244.23 166.44,249.58 166.86,254.92 167.27,260.27 167.69,265.61 168.11,270.96 168.52,276.90 168.94,281.65"/>
<path d="M163.94,211.72 L167.74,218.52 L160.14,218.52 Z" fill="#fff" stroke="#1a9a20" stroke-width="1.3" stroke-linejoin="miter"/><path d="M163.94,211.72 L166.56,216.42 L161.31,216.42 Z" fill="#1a9a20" stroke="#1a9a20" stroke-width="0.6"/>
<path d="M164.35,216.47 L168.15,223.27 L160.55,223.27 Z" fill="#fff" stroke="#1a9a20" stroke-width="1.3" stroke-linejoin="miter"/><path d="M164.35,216.47 L166.98,221.17 L161.73,221.17 Z" fill="#1a9a20" stroke="#1a9a20" stroke-width="0.6"/>
<path d="M164.77,221.82 L168.57,228.62 L160.97,228.62 Z" fill="#fff" stroke="#1a9a20" stroke-width="1.3" stroke-linejoin="miter"/><path d="M164.77,221.82 L167.40,226.52 L162.14,226.52 Z" fill="#1a9a20" stroke="#1a9a20" stroke-width="0.6"/>
<path d="M165.19,228.35 L168.99,235.15 L161.39,235.15 Z" fill="#fff" stroke="#1a9a20" stroke-width="1.3" stroke-linejoin="miter"/><path d="M165.19,228.35 L167.81,233.05 L162.56,233.05 Z" fill="#1a9a20" stroke="#1a9a20" stroke-width="0.6"/>
<path d="M165.60,234.29 L169.40,241.09 L161.80,241.09 Z" fill="#fff" stroke="#1a9a20" stroke-width="1.3" stroke-linejoin="miter"/><path d="M165.60,234.29 L168.23,238.99 L162.98,238.99 Z" fill="#1a9a20" stroke="#1a9a20" stroke-width="0.6"/>
<path d="M166.02,240.23 L169.82,247.03 L162.22,247.03 Z" fill="#fff" stroke="#1a9a20" stroke-width="1.3" stroke-linejoin="miter"/><path d="M166.02,240.23 L168.65,244.93 L163.40,244.93 Z" fill="#1a9a20" stroke="#1a9a20" stroke-width="0.6"/>
<path d="M166.44,245.58 L170.24,252.38 L162.64,252.38 Z" fill="#fff" stroke="#1a9a20" stroke-width="1.3" stroke-linejoin="miter"/><path d="M166.44,245.58 L169.07,250.28 L163.81,250.28 Z" fill="#1a9a20" stroke="#1a9a20" stroke-width="0.6"/>
<path d="M166.86,250.92 L170.66,257.72 L163.06,257.72 Z" fill="#fff" stroke="#1a9a20" stroke-width="1.3" stroke-linejoin="miter"/><path d="M166.86,250.92 L169.48,255.62 L164.23,255.62 Z" fill="#1a9a20" stroke="#1a9a20" stroke-width="0.6"/>
<path d="M167.27,256.27 L171.07,263.07 L163.47,263.07 Z" fill="#fff" stroke="#1a9a20" stroke-width="1.3" stroke-linejoin="miter"/><path d="M167.27,256.27 L169.90,260.97 L164.65,260.97 Z" fill="#1a9a20" stroke="#1a9a20" stroke-width="0.6"/>
<path d="M167.69,261.61 L171.49,268.41 L163.89,268.41 Z" fill="#fff" stroke="#1a9a20" stroke-width="1.3" stroke-linejoin="miter"/><path d="M167.69,261.61 L170.32,266.31 L165.06,266.31 Z" fill="#1a9a20" stroke="#1a9a20" stroke-width="0.6"/>
<path d="M168.11,266.96 L171.91,273.76 L164.31,273.76 Z" fill="#fff" stroke="#1a9a20" stroke-width="1.3" stroke-linejoin="miter"/><path d="M168.11,266.96 L170.73,271.66 L165.48,271.66 Z" fill="#1a9a20" stroke="#1a9a20" stroke-width="0.6"/>
<path d="M168.52,272.90 L172.32,279.70 L164.72,279.70 Z" fill="#fff" stroke="#1a9a20" stroke-width="1.3" stroke-linejoin="miter"/><path d="M168.52,272.90 L171.15,277.60 L165.90,277.60 Z" fill="#1a9a20" stroke="#1a9a20" stroke-width="0.6"/>
<path d="M168.94,277.65 L172.74,284.45 L165.14,284.45 Z" fill="#fff" stroke="#1a9a20" stroke-width="1.3" stroke-linejoin="miter"/><path d="M168.94,277.65 L171.57,282.35 L166.32,282.35 Z" fill="#1a9a20" stroke="#1a9a20" stroke-width="0.6"/>
<polyline fill="none" stroke="#a545f0" stroke-width="1.7" stroke-linejoin="round" points="169.08,285.22 169.08,294.72 169.22,323.83 169.36,336.89 169.50,349.96 169.64,358.28 169.92,360.06 170.33,359.47 170.75,358.28 171.17,357.09"/>
<path d="M169.08,280.92 L173.60,285.22 L169.08,289.52 L164.57,285.22 Z" fill="#fff" stroke="#a545f0" stroke-width="1.3"/><path d="M169.08,280.92 L173.60,285.52 L164.57,285.52 Z" fill="#a545f0"/>
<path d="M169.08,290.42 L173.60,294.72 L169.08,299.02 L164.57,294.72 Z" fill="#fff" stroke="#a545f0" stroke-width="1.3"/><path d="M169.08,290.42 L173.60,295.02 L164.57,295.02 Z" fill="#a545f0"/>
<path d="M169.22,319.53 L173.74,323.83 L169.22,328.13 L164.71,323.83 Z" fill="#fff" stroke="#a545f0" stroke-width="1.3"/><path d="M169.22,319.53 L173.74,324.13 L164.71,324.13 Z" fill="#a545f0"/>
<path d="M169.36,332.59 L173.87,336.89 L169.36,341.19 L164.84,336.89 Z" fill="#fff" stroke="#a545f0" stroke-width="1.3"/><path d="M169.36,332.59 L173.87,337.19 L164.84,337.19 Z" fill="#a545f0"/>
<path d="M169.50,345.66 L174.01,349.96 L169.50,354.26 L164.98,349.96 Z" fill="#fff" stroke="#a545f0" stroke-width="1.3"/><path d="M169.50,345.66 L174.01,350.26 L164.98,350.26 Z" fill="#a545f0"/>
<path d="M169.64,353.98 L174.15,358.28 L169.64,362.58 L165.12,358.28 Z" fill="#fff" stroke="#a545f0" stroke-width="1.3"/><path d="M169.64,353.98 L174.15,358.58 L165.12,358.58 Z" fill="#a545f0"/>
<path d="M169.92,355.76 L174.43,360.06 L169.92,364.36 L165.40,360.06 Z" fill="#fff" stroke="#a545f0" stroke-width="1.3"/><path d="M169.92,355.76 L174.43,360.36 L165.40,360.36 Z" fill="#a545f0"/>
<path d="M170.33,355.17 L174.85,359.47 L170.33,363.77 L165.82,359.47 Z" fill="#fff" stroke="#a545f0" stroke-width="1.3"/><path d="M170.33,355.17 L174.85,359.77 L165.82,359.77 Z" fill="#a545f0"/>
<path d="M170.75,353.98 L175.26,358.28 L170.75,362.58 L166.23,358.28 Z" fill="#fff" stroke="#a545f0" stroke-width="1.3"/><path d="M170.75,353.98 L175.26,358.58 L166.23,358.58 Z" fill="#a545f0"/>
<path d="M171.17,352.79 L175.68,357.09 L171.17,361.39 L166.65,357.09 Z" fill="#fff" stroke="#a545f0" stroke-width="1.3"/><path d="M171.17,352.79 L175.68,357.39 L166.65,357.39 Z" fill="#a545f0"/>
<polyline fill="none" stroke="#b3a422" stroke-width="1.7" stroke-linejoin="round" points="172.21,354.12 172.91,351.15 173.60,348.18 174.30,345.21 174.99,342.24 175.69,339.86 176.24,338.68 176.45,343.43 176.59,348.18 176.73,352.93 187.16,358.28 197.59,349.96 208.02,329.77 218.45,314.92 228.88,304.82 239.31,297.10 249.74,293.53 260.17,290.26 270.60,287.30"/>
<path d="M169.36,350.32 L176.77,354.12 L169.36,357.92 Z" fill="#fff" stroke="#b3a422" stroke-width="1.3"/><path d="M169.36,350.32 L176.77,354.12 L176.77,354.42 L169.36,354.42 Z" fill="#b3a422"/>
<path d="M170.06,347.35 L177.47,351.15 L170.06,354.95 Z" fill="#fff" stroke="#b3a422" stroke-width="1.3"/><path d="M170.06,347.35 L177.47,351.15 L177.47,351.45 L170.06,351.45 Z" fill="#b3a422"/>
<path d="M170.75,344.38 L178.16,348.18 L170.75,351.98 Z" fill="#fff" stroke="#b3a422" stroke-width="1.3"/><path d="M170.75,344.38 L178.16,348.18 L178.16,348.48 L170.75,348.48 Z" fill="#b3a422"/>
<path d="M171.45,341.41 L178.86,345.21 L171.45,349.01 Z" fill="#fff" stroke="#b3a422" stroke-width="1.3"/><path d="M171.45,341.41 L178.86,345.21 L178.86,345.51 L171.45,345.51 Z" fill="#b3a422"/>
<path d="M172.14,338.44 L179.55,342.24 L172.14,346.04 Z" fill="#fff" stroke="#b3a422" stroke-width="1.3"/><path d="M172.14,338.44 L179.55,342.24 L179.55,342.54 L172.14,342.54 Z" fill="#b3a422"/>
<path d="M172.84,336.06 L180.25,339.86 L172.84,343.66 Z" fill="#fff" stroke="#b3a422" stroke-width="1.3"/><path d="M172.84,336.06 L180.25,339.86 L180.25,340.16 L172.84,340.16 Z" fill="#b3a422"/>
<path d="M173.39,334.88 L180.80,338.68 L173.39,342.48 Z" fill="#fff" stroke="#b3a422" stroke-width="1.3"/><path d="M173.39,334.88 L180.80,338.68 L180.80,338.98 L173.39,338.98 Z" fill="#b3a422"/>
<path d="M173.60,339.63 L181.01,343.43 L173.60,347.23 Z" fill="#fff" stroke="#b3a422" stroke-width="1.3"/><path d="M173.60,339.63 L181.01,343.43 L181.01,343.73 L173.60,343.73 Z" fill="#b3a422"/>
<path d="M173.74,344.38 L181.15,348.18 L173.74,351.98 Z" fill="#fff" stroke="#b3a422" stroke-width="1.3"/><path d="M173.74,344.38 L181.15,348.18 L181.15,348.48 L173.74,348.48 Z" fill="#b3a422"/>
<path d="M173.88,349.13 L181.29,352.93 L173.88,356.73 Z" fill="#fff" stroke="#b3a422" stroke-width="1.3"/><path d="M173.88,349.13 L181.29,352.93 L181.29,353.23 L173.88,353.23 Z" fill="#b3a422"/>
<path d="M184.31,354.48 L191.72,358.28 L184.31,362.08 Z" fill="#fff" stroke="#b3a422" stroke-width="1.3"/><path d="M184.31,354.48 L191.72,358.28 L191.72,358.58 L184.31,358.58 Z" fill="#b3a422"/>
<path d="M194.74,346.16 L202.15,349.96 L194.74,353.76 Z" fill="#fff" stroke="#b3a422" stroke-width="1.3"/><path d="M194.74,346.16 L202.15,349.96 L202.15,350.26 L194.74,350.26 Z" fill="#b3a422"/>
<path d="M205.17,325.97 L212.58,329.77 L205.17,333.57 Z" fill="#fff" stroke="#b3a422" stroke-width="1.3"/><path d="M205.17,325.97 L212.58,329.77 L212.58,330.07 L205.17,330.07 Z" fill="#b3a422"/>
<path d="M215.60,311.12 L223.01,314.92 L215.60,318.72 Z" fill="#fff" stroke="#b3a422" stroke-width="1.3"/><path d="M215.60,311.12 L223.01,314.92 L223.01,315.22 L215.60,315.22 Z" fill="#b3a422"/>
<path d="M226.03,301.02 L233.44,304.82 L226.03,308.62 Z" fill="#fff" stroke="#b3a422" stroke-width="1.3"/><path d="M226.03,301.02 L233.44,304.82 L233.44,305.12 L226.03,305.12 Z" fill="#b3a422"/>
<path d="M236.46,293.30 L243.87,297.10 L236.46,300.90 Z" fill="#fff" stroke="#b3a422" stroke-width="1.3"/><path d="M236.46,293.30 L243.87,297.10 L243.87,297.40 L236.46,297.40 Z" fill="#b3a422"/>
<path d="M246.89,289.73 L254.30,293.53 L246.89,297.33 Z" fill="#fff" stroke="#b3a422" stroke-width="1.3"/><path d="M246.89,289.73 L254.30,293.53 L254.30,293.83 L246.89,293.83 Z" fill="#b3a422"/>
<path d="M257.32,286.46 L264.73,290.26 L257.32,294.06 Z" fill="#fff" stroke="#b3a422" stroke-width="1.3"/><path d="M257.32,286.46 L264.73,290.26 L264.73,290.56 L257.32,290.56 Z" fill="#b3a422"/>
<path d="M267.75,283.50 L275.16,287.30 L267.75,291.10 Z" fill="#fff" stroke="#b3a422" stroke-width="1.3"/><path d="M267.75,283.50 L275.16,287.30 L275.16,287.60 L267.75,287.60 Z" fill="#b3a422"/>
<rect x="170.4" y="215.45" width="17.4" height="1.7" fill="#f04040"/>
<rect x="176.10" y="213.78" width="6.00" height="5.04" fill="#fff" stroke="#f04040" stroke-width="1.3"/><rect x="176.10" y="213.78" width="6.00" height="2.82" fill="#f04040"/>
<text x="191.30" y="220.70" font-size="12.3" font-weight="bold" text-anchor="start" fill="#000" >Upstream</text>
<rect x="170.4" y="230.95" width="17.4" height="1.7" fill="#1868ae"/>
<circle cx="179.10" cy="231.80" r="3.15" fill="#fff" stroke="#1868ae" stroke-width="1.3"/><path d="M175.95,232.10 L175.95,231.80 A3.15,3.15 0 0 1 182.25,231.80 L182.25,232.10 Z" fill="#1868ae"/>
<text x="191.30" y="236.20" font-size="12.3" font-weight="bold" text-anchor="start" fill="#000" >Incident flow</text>
<rect x="170.4" y="246.15" width="17.4" height="1.7" fill="#1a9a20"/>
<path d="M179.10,243.00 L182.90,249.80 L175.30,249.80 Z" fill="#fff" stroke="#1a9a20" stroke-width="1.3" stroke-linejoin="miter"/><path d="M179.10,243.00 L181.73,247.70 L176.47,247.70 Z" fill="#1a9a20" stroke="#1a9a20" stroke-width="0.6"/>
<text x="191.30" y="251.40" font-size="12.3" font-weight="bold" text-anchor="start" fill="#000" >Top</text>
<rect x="170.4" y="261.75" width="17.4" height="1.7" fill="#a545f0"/>
<path d="M179.10,258.30 L183.61,262.60 L179.10,266.90 L174.59,262.60 Z" fill="#fff" stroke="#a545f0" stroke-width="1.3"/><path d="M179.10,258.30 L183.61,262.90 L174.59,262.90 Z" fill="#a545f0"/>
<text x="191.30" y="267.00" font-size="12.3" font-weight="bold" text-anchor="start" fill="#000" >Back flow</text>
<rect x="170.4" y="277.35" width="17.4" height="1.7" fill="#b3a422"/>
<path d="M176.25,274.40 L183.66,278.20 L176.25,282.00 Z" fill="#fff" stroke="#b3a422" stroke-width="1.3"/><path d="M176.25,274.40 L183.66,278.20 L183.66,278.50 L176.25,278.50 Z" fill="#b3a422"/>
<text x="191.30" y="282.60" font-size="12.3" font-weight="bold" text-anchor="start" fill="#000" >Downstream</text>
<rect x="76.4" y="295.8" width="74.0" height="59.19999999999999" fill="#fff" stroke="#444" stroke-width="0.7"/>
<rect x="78.30" y="353.70" width="0.5" height="1.3" fill="#333"/>
<text x="78.55" y="359.60" font-size="3.6" font-weight="bold" text-anchor="middle" fill="#222" >−15</text>
<rect x="89.85" y="353.70" width="0.5" height="1.3" fill="#333"/>
<text x="90.10" y="359.60" font-size="3.6" font-weight="bold" text-anchor="middle" fill="#222" >−10</text>
<rect x="101.40" y="353.70" width="0.5" height="1.3" fill="#333"/>
<text x="101.65" y="359.60" font-size="3.6" font-weight="bold" text-anchor="middle" fill="#222" >−5</text>
<rect x="112.95" y="353.70" width="0.5" height="1.3" fill="#333"/>
<text x="113.20" y="359.60" font-size="3.6" font-weight="bold" text-anchor="middle" fill="#222" >0</text>
<rect x="124.50" y="353.70" width="0.5" height="1.3" fill="#333"/>
<text x="124.75" y="359.60" font-size="3.6" font-weight="bold" text-anchor="middle" fill="#222" >5</text>
<rect x="136.05" y="353.70" width="0.5" height="1.3" fill="#333"/>
<text x="136.30" y="359.60" font-size="3.6" font-weight="bold" text-anchor="middle" fill="#222" >10</text>
<rect x="147.60" y="353.70" width="0.5" height="1.3" fill="#333"/>
<text x="147.85" y="359.60" font-size="3.6" font-weight="bold" text-anchor="middle" fill="#222" >15</text>
<rect x="76.4" y="352.95" width="1.3" height="0.5" fill="#333"/>
<text x="75.20" y="354.50" font-size="3.6" font-weight="bold" text-anchor="end" fill="#222" >0.0</text>
<rect x="76.4" y="342.35" width="1.3" height="0.5" fill="#333"/>
<text x="75.20" y="343.90" font-size="3.6" font-weight="bold" text-anchor="end" fill="#222" >0.5</text>
<rect x="76.4" y="331.75" width="1.3" height="0.5" fill="#333"/>
<text x="75.20" y="333.30" font-size="3.6" font-weight="bold" text-anchor="end" fill="#222" >1.0</text>
<rect x="76.4" y="321.15" width="1.3" height="0.5" fill="#333"/>
<text x="75.20" y="322.70" font-size="3.6" font-weight="bold" text-anchor="end" fill="#222" >1.5</text>
<rect x="76.4" y="310.55" width="1.3" height="0.5" fill="#333"/>
<text x="75.20" y="312.10" font-size="3.6" font-weight="bold" text-anchor="end" fill="#222" >2.0</text>
<rect x="76.4" y="299.95" width="1.3" height="0.5" fill="#333"/>
<text x="75.20" y="301.50" font-size="3.6" font-weight="bold" text-anchor="end" fill="#222" >2.5</text>
<text x="113.20" y="365.80" font-size="3.8" font-weight="bold" text-anchor="middle" fill="#222" >Distance (mm)</text>
<text transform="translate(67.6,349) rotate(-90)" font-size="3.6" font-weight="bold" fill="#222">Velocity magnitude (m·s<tspan font-size="2.4" dy="-1.2">−1</tspan><tspan dy="1.2">)</tspan></text>
<polyline fill="none" stroke="#f04040" stroke-width="1.25" points="78.55,330.94 78.78,331.58 79.01,332.21 79.24,332.85 80.17,333.41 81.09,333.98 82.02,334.54 83.17,335.32 84.33,336.10 85.48,336.88 86.64,337.94 87.79,339.00 88.95,340.06 89.87,341.05 90.79,342.03 91.72,343.02 92.41,343.80 93.10,344.58 93.80,345.36"/>
<circle cx="78.55" cy="330.94" r="1.0" fill="#f04040"/>
<circle cx="78.78" cy="331.58" r="1.0" fill="#f04040"/>
<circle cx="79.01" cy="332.21" r="1.0" fill="#f04040"/>
<circle cx="79.24" cy="332.85" r="1.0" fill="#f04040"/>
<circle cx="80.17" cy="333.41" r="1.0" fill="#f04040"/>
<circle cx="81.09" cy="333.98" r="1.0" fill="#f04040"/>
<circle cx="82.02" cy="334.54" r="1.0" fill="#f04040"/>
<circle cx="83.17" cy="335.32" r="1.0" fill="#f04040"/>
<circle cx="84.33" cy="336.10" r="1.0" fill="#f04040"/>
<circle cx="85.48" cy="336.88" r="1.0" fill="#f04040"/>
<circle cx="86.64" cy="337.94" r="1.0" fill="#f04040"/>
<circle cx="87.79" cy="339.00" r="1.0" fill="#f04040"/>
<circle cx="88.95" cy="340.06" r="1.0" fill="#f04040"/>
<circle cx="89.87" cy="341.05" r="1.0" fill="#f04040"/>
<circle cx="90.79" cy="342.03" r="1.0" fill="#f04040"/>
<circle cx="91.72" cy="343.02" r="1.0" fill="#f04040"/>
<circle cx="92.41" cy="343.80" r="1.0" fill="#f04040"/>
<circle cx="93.10" cy="344.58" r="1.0" fill="#f04040"/>
<circle cx="93.80" cy="345.36" r="1.0" fill="#f04040"/>
<polyline fill="none" stroke="#1868ae" stroke-width="1.25" points="93.80,345.36 94.43,343.29 95.07,341.22 95.70,339.15 96.34,337.09 96.91,334.76 97.49,332.42 98.07,330.09 98.65,327.76 99.28,324.58 99.92,321.40 100.55,318.22 101.19,315.04 101.84,311.44 102.49,307.83 103.15,304.23 103.80,300.62"/>
<circle cx="93.80" cy="345.36" r="1.0" fill="#1868ae"/>
<circle cx="94.43" cy="343.29" r="1.0" fill="#1868ae"/>
<circle cx="95.07" cy="341.22" r="1.0" fill="#1868ae"/>
<circle cx="95.70" cy="339.15" r="1.0" fill="#1868ae"/>
<circle cx="96.34" cy="337.09" r="1.0" fill="#1868ae"/>
<circle cx="96.91" cy="334.76" r="1.0" fill="#1868ae"/>
<circle cx="97.49" cy="332.42" r="1.0" fill="#1868ae"/>
<circle cx="98.07" cy="330.09" r="1.0" fill="#1868ae"/>
<circle cx="98.65" cy="327.76" r="1.0" fill="#1868ae"/>
<circle cx="99.28" cy="324.58" r="1.0" fill="#1868ae"/>
<circle cx="99.92" cy="321.40" r="1.0" fill="#1868ae"/>
<circle cx="100.55" cy="318.22" r="1.0" fill="#1868ae"/>
<circle cx="101.19" cy="315.04" r="1.0" fill="#1868ae"/>
<circle cx="101.84" cy="311.44" r="1.0" fill="#1868ae"/>
<circle cx="102.49" cy="307.83" r="1.0" fill="#1868ae"/>
<circle cx="103.15" cy="304.23" r="1.0" fill="#1868ae"/>
<circle cx="103.80" cy="300.62" r="1.0" fill="#1868ae"/>
<polyline fill="none" stroke="#1a9a20" stroke-width="1.25" points="103.80,300.62 104.39,300.20 104.98,299.78 105.58,299.35 106.19,300.34 106.81,301.33 107.42,302.32 108.97,305.15 110.50,307.97 112.05,310.80 113.59,313.27 115.12,315.75 116.67,318.22 117.82,319.63 118.98,321.05 120.13,322.46 120.90,323.24 121.67,324.01 122.44,324.79"/>
<circle cx="103.80" cy="300.62" r="1.0" fill="#1a9a20"/>
<circle cx="104.39" cy="300.20" r="1.0" fill="#1a9a20"/>
<circle cx="104.98" cy="299.78" r="1.0" fill="#1a9a20"/>
<circle cx="105.58" cy="299.35" r="1.0" fill="#1a9a20"/>
<circle cx="106.19" cy="300.34" r="1.0" fill="#1a9a20"/>
<circle cx="106.81" cy="301.33" r="1.0" fill="#1a9a20"/>
<circle cx="107.42" cy="302.32" r="1.0" fill="#1a9a20"/>
<circle cx="108.97" cy="305.15" r="1.0" fill="#1a9a20"/>
<circle cx="110.50" cy="307.97" r="1.0" fill="#1a9a20"/>
<circle cx="112.05" cy="310.80" r="1.0" fill="#1a9a20"/>
<circle cx="113.59" cy="313.27" r="1.0" fill="#1a9a20"/>
<circle cx="115.12" cy="315.75" r="1.0" fill="#1a9a20"/>
<circle cx="116.67" cy="318.22" r="1.0" fill="#1a9a20"/>
<circle cx="117.82" cy="319.63" r="1.0" fill="#1a9a20"/>
<circle cx="118.98" cy="321.05" r="1.0" fill="#1a9a20"/>
<circle cx="120.13" cy="322.46" r="1.0" fill="#1a9a20"/>
<circle cx="120.90" cy="323.24" r="1.0" fill="#1a9a20"/>
<circle cx="121.67" cy="324.01" r="1.0" fill="#1a9a20"/>
<circle cx="122.44" cy="324.79" r="1.0" fill="#1a9a20"/>
<polyline fill="none" stroke="#a545f0" stroke-width="1.25" points="122.44,324.79 122.67,325.80 122.90,326.81 123.13,327.81 123.36,328.82 123.54,332.26 123.71,335.71 123.88,339.15 124.06,342.60 124.23,344.72 124.40,346.84 124.58,348.96 124.75,351.08 125.33,350.97 125.91,350.87 126.48,350.76 127.06,350.66 128.33,350.28 129.60,349.91 130.87,349.54 132.14,349.17"/>
<circle cx="122.44" cy="324.79" r="1.0" fill="#a545f0"/>
<circle cx="122.67" cy="325.80" r="1.0" fill="#a545f0"/>
<circle cx="122.90" cy="326.81" r="1.0" fill="#a545f0"/>
<circle cx="123.13" cy="327.81" r="1.0" fill="#a545f0"/>
<circle cx="123.36" cy="328.82" r="1.0" fill="#a545f0"/>
<circle cx="123.54" cy="332.26" r="1.0" fill="#a545f0"/>
<circle cx="123.71" cy="335.71" r="1.0" fill="#a545f0"/>
<circle cx="123.88" cy="339.15" r="1.0" fill="#a545f0"/>
<circle cx="124.06" cy="342.60" r="1.0" fill="#a545f0"/>
<circle cx="124.23" cy="344.72" r="1.0" fill="#a545f0"/>
<circle cx="124.40" cy="346.84" r="1.0" fill="#a545f0"/>
<circle cx="124.58" cy="348.96" r="1.0" fill="#a545f0"/>
<circle cx="124.75" cy="351.08" r="1.0" fill="#a545f0"/>
<circle cx="125.33" cy="350.97" r="1.0" fill="#a545f0"/>
<circle cx="125.91" cy="350.87" r="1.0" fill="#a545f0"/>
<circle cx="126.48" cy="350.76" r="1.0" fill="#a545f0"/>
<circle cx="127.06" cy="350.66" r="1.0" fill="#a545f0"/>
<circle cx="128.33" cy="350.28" r="1.0" fill="#a545f0"/>
<circle cx="129.60" cy="349.91" r="1.0" fill="#a545f0"/>
<circle cx="130.87" cy="349.54" r="1.0" fill="#a545f0"/>
<circle cx="132.14" cy="349.17" r="1.0" fill="#a545f0"/>
<polyline fill="none" stroke="#b3a422" stroke-width="1.25" points="132.14,349.17 133.53,348.61 134.91,348.04 136.30,347.48 137.84,346.84 139.38,346.20 140.92,345.57 142.07,345.14 143.23,344.72 144.38,344.30 145.00,344.30 145.62,344.30 146.23,344.30 146.93,345.71 147.62,347.12 148.31,348.54"/>
<circle cx="132.14" cy="349.17" r="1.0" fill="#b3a422"/>
<circle cx="133.53" cy="348.61" r="1.0" fill="#b3a422"/>
<circle cx="134.91" cy="348.04" r="1.0" fill="#b3a422"/>
<circle cx="136.30" cy="347.48" r="1.0" fill="#b3a422"/>
<circle cx="137.84" cy="346.84" r="1.0" fill="#b3a422"/>
<circle cx="139.38" cy="346.20" r="1.0" fill="#b3a422"/>
<circle cx="140.92" cy="345.57" r="1.0" fill="#b3a422"/>
<circle cx="142.07" cy="345.14" r="1.0" fill="#b3a422"/>
<circle cx="143.23" cy="344.72" r="1.0" fill="#b3a422"/>
<circle cx="144.38" cy="344.30" r="1.0" fill="#b3a422"/>
<circle cx="145.00" cy="344.30" r="1.0" fill="#b3a422"/>
<circle cx="145.62" cy="344.30" r="1.0" fill="#b3a422"/>
<circle cx="146.23" cy="344.30" r="1.0" fill="#b3a422"/>
<circle cx="146.93" cy="345.71" r="1.0" fill="#b3a422"/>
<circle cx="147.62" cy="347.12" r="1.0" fill="#b3a422"/>
<circle cx="148.31" cy="348.54" r="1.0" fill="#b3a422"/>
<text x="273.30" y="213.50" font-size="14.0" font-weight="bold" text-anchor="start" fill="#000" >(d)</text>
<rect x="332.2" y="204.9" width="208.00000000000006" height="167.6" fill="none" stroke="#000" stroke-width="1.9"/>
<rect x="352.25" y="369.10" width="1.1" height="3.4" fill="#000"/>
<rect x="393.75" y="369.10" width="1.1" height="3.4" fill="#000"/>
<rect x="435.25" y="369.10" width="1.1" height="3.4" fill="#000"/>
<rect x="476.75" y="369.10" width="1.1" height="3.4" fill="#000"/>
<rect x="518.35" y="369.10" width="1.1" height="3.4" fill="#000"/>
<rect x="332.2" y="371.45" width="3.0" height="1.1" fill="#000"/>
<rect x="332.2" y="364.18" width="1.9" height="1.1" fill="#000"/>
<rect x="332.2" y="356.91" width="1.9" height="1.1" fill="#000"/>
<rect x="332.2" y="349.64" width="1.9" height="1.1" fill="#000"/>
<rect x="332.2" y="342.37" width="1.9" height="1.1" fill="#000"/>
<rect x="332.2" y="335.10" width="3.0" height="1.1" fill="#000"/>
<rect x="332.2" y="327.83" width="1.9" height="1.1" fill="#000"/>
<rect x="332.2" y="320.56" width="1.9" height="1.1" fill="#000"/>
<rect x="332.2" y="313.29" width="1.9" height="1.1" fill="#000"/>
<rect x="332.2" y="306.02" width="1.9" height="1.1" fill="#000"/>
<rect x="332.2" y="298.75" width="3.0" height="1.1" fill="#000"/>
<rect x="332.2" y="291.48" width="1.9" height="1.1" fill="#000"/>
<rect x="332.2" y="284.21" width="1.9" height="1.1" fill="#000"/>
<rect x="332.2" y="276.94" width="1.9" height="1.1" fill="#000"/>
<rect x="332.2" y="269.67" width="1.9" height="1.1" fill="#000"/>
<rect x="332.2" y="262.40" width="3.0" height="1.1" fill="#000"/>
<rect x="332.2" y="255.13" width="1.9" height="1.1" fill="#000"/>
<rect x="332.2" y="247.86" width="1.9" height="1.1" fill="#000"/>
<rect x="332.2" y="240.59" width="1.9" height="1.1" fill="#000"/>
<rect x="332.2" y="233.32" width="1.9" height="1.1" fill="#000"/>
<rect x="332.2" y="226.05" width="3.0" height="1.1" fill="#000"/>
<rect x="332.2" y="218.78" width="1.9" height="1.1" fill="#000"/>
<rect x="332.2" y="211.51" width="1.9" height="1.1" fill="#000"/>
<text x="328.20" y="376.30" font-size="12" font-weight="bold" text-anchor="end" fill="#000" >0.0</text>
<text x="328.20" y="339.95" font-size="12" font-weight="bold" text-anchor="end" fill="#000" >0.5</text>
<text x="328.20" y="303.60" font-size="12" font-weight="bold" text-anchor="end" fill="#000" >1.0</text>
<text x="328.20" y="267.25" font-size="12" font-weight="bold" text-anchor="end" fill="#000" >1.5</text>
<text x="328.20" y="230.90" font-size="12" font-weight="bold" text-anchor="end" fill="#000" >2.0</text>
<text x="385.90" y="388.70" font-size="12.45" font-weight="bold" text-anchor="start" fill="#000" >Different surface</text>
<text transform="translate(305.1,366.6) rotate(-90)" font-size="12.1" font-weight="bold" textLength="155.6" lengthAdjust="spacing">Velocity magnitude (m·s<tspan font-size="8" dy="-4.5">−1</tspan><tspan dy="4.5">)</tspan></text>
<rect x="351.90" y="310.20" width="1.8" height="11.27" fill="#f04040"/>
<rect x="350.20" y="309.35" width="5.2" height="1.7" fill="#f04040"/>
<rect x="350.20" y="320.62" width="5.2" height="1.7" fill="#f04040"/>
<rect x="350.20" y="313.62" width="5.20" height="4.37" fill="#fff" stroke="#f04040" stroke-width="1.3"/><rect x="350.20" y="313.62" width="5.20" height="2.48" fill="#f04040"/>
<rect x="393.40" y="278.94" width="1.8" height="34.90" fill="#1868ae"/>
<rect x="391.70" y="278.09" width="5.2" height="1.7" fill="#1868ae"/>
<rect x="391.70" y="312.99" width="5.2" height="1.7" fill="#1868ae"/>
<circle cx="394.30" cy="296.03" r="3.1" fill="#fff" stroke="#1868ae" stroke-width="1.3"/><path d="M391.20,296.33 L391.20,296.03 A3.1,3.1 0 0 1 397.40,296.03 L397.40,296.33 Z" fill="#1868ae"/>
<rect x="434.90" y="220.78" width="1.8" height="29.08" fill="#1a9a20"/>
<rect x="433.20" y="219.93" width="5.2" height="1.7" fill="#1a9a20"/>
<rect x="433.20" y="249.01" width="5.2" height="1.7" fill="#1a9a20"/>
<path d="M435.80,231.32 L439.60,238.12 L432.00,238.12 Z" fill="#fff" stroke="#1a9a20" stroke-width="1.3" stroke-linejoin="miter"/><path d="M435.80,231.32 L438.43,236.02 L433.17,236.02 Z" fill="#1a9a20" stroke="#1a9a20" stroke-width="0.6"/>
<path d="M477.60,355.19 L481.74,359.79 L477.60,364.39 L473.46,359.79 Z" fill="#a545f0" stroke="#a545f0" stroke-width="0.8"/><rect x="475.20" y="359.69" width="4.8" height="0.9" fill="#d9b0ff"/>
<path d="M516.38,341.78 L523.78,345.68 L516.38,349.58 Z" fill="#b3a422" stroke="#b3a422" stroke-width="0.8"/><rect x="517.17" y="345.98" width="4.2" height="0.9" fill="#ddd38a"/>
<rect x="442.9" y="216.65" width="19.0" height="1.7" fill="#f04040"/>
<rect x="449.40" y="214.98" width="6.00" height="5.04" fill="#fff" stroke="#f04040" stroke-width="1.3"/><rect x="449.40" y="214.98" width="6.00" height="2.82" fill="#f04040"/>
<text x="464.80" y="221.40" font-size="12.3" font-weight="bold" text-anchor="start" fill="#000" >Upstream</text>
<rect x="442.9" y="231.95" width="19.0" height="1.7" fill="#1868ae"/>
<circle cx="452.40" cy="232.80" r="3.15" fill="#fff" stroke="#1868ae" stroke-width="1.3"/><path d="M449.25,233.10 L449.25,232.80 A3.15,3.15 0 0 1 455.55,232.80 L455.55,233.10 Z" fill="#1868ae"/>
<text x="464.80" y="236.70" font-size="12.3" font-weight="bold" text-anchor="start" fill="#000" >Inciden flow</text>
<rect x="442.9" y="247.25" width="19.0" height="1.7" fill="#1a9a20"/>
<path d="M452.40,244.10 L456.20,250.90 L448.60,250.90 Z" fill="#fff" stroke="#1a9a20" stroke-width="1.3" stroke-linejoin="miter"/><path d="M452.40,244.10 L455.03,248.80 L449.77,248.80 Z" fill="#1a9a20" stroke="#1a9a20" stroke-width="0.6"/>
<text x="464.80" y="252.00" font-size="12.3" font-weight="bold" text-anchor="start" fill="#000" >Top</text>
<rect x="442.9" y="262.65" width="19.0" height="1.7" fill="#a545f0"/>
<path d="M452.40,259.20 L456.91,263.50 L452.40,267.80 L447.88,263.50 Z" fill="#fff" stroke="#a545f0" stroke-width="1.3"/><path d="M452.40,259.20 L456.91,263.80 L447.88,263.80 Z" fill="#a545f0"/>
<text x="464.80" y="267.40" font-size="12.3" font-weight="bold" text-anchor="start" fill="#000" >Back flow</text>
<rect x="442.9" y="277.95" width="19.0" height="1.7" fill="#b3a422"/>
<path d="M449.55,275.00 L456.96,278.80 L449.55,282.60 Z" fill="#fff" stroke="#b3a422" stroke-width="1.3"/><path d="M449.55,275.00 L456.96,278.80 L456.96,279.10 L449.55,279.10 Z" fill="#b3a422"/>
<text x="464.80" y="282.70" font-size="12.3" font-weight="bold" text-anchor="start" fill="#000" >Downstream</text>
</g>
</svg>
</body></html>
